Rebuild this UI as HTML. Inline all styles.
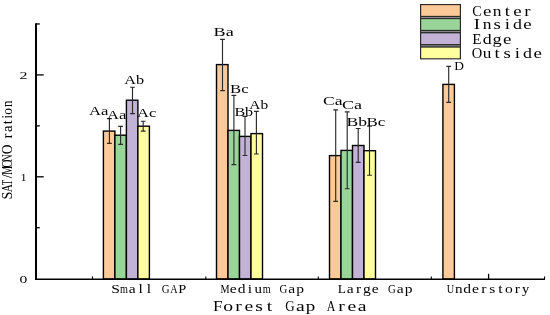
<!DOCTYPE html><html><head><meta charset="utf-8"><style>html,body{margin:0;padding:0;background:#fff;}svg{display:block;}</style></head><body>
<svg width="550" height="315" viewBox="0 0 550 315">
<rect x="0" y="0" width="550" height="315" fill="#fff"/>
<rect x="103.40" y="131.10" width="11.50" height="147.90" fill="rgb(252,201,153)" stroke="#000" stroke-width="1.4"/>
<rect x="114.90" y="135.20" width="11.50" height="143.80" fill="rgb(153,213,153)" stroke="#000" stroke-width="1.4"/>
<rect x="126.40" y="100.20" width="11.50" height="178.80" fill="rgb(193,178,214)" stroke="#000" stroke-width="1.4"/>
<rect x="137.90" y="126.20" width="11.50" height="152.80" fill="rgb(255,255,160)" stroke="#000" stroke-width="1.4"/>
<rect x="216.50" y="64.60" width="11.50" height="214.40" fill="rgb(252,201,153)" stroke="#000" stroke-width="1.4"/>
<rect x="228.00" y="130.40" width="11.50" height="148.60" fill="rgb(153,213,153)" stroke="#000" stroke-width="1.4"/>
<rect x="239.50" y="136.40" width="11.50" height="142.60" fill="rgb(193,178,214)" stroke="#000" stroke-width="1.4"/>
<rect x="251.00" y="133.60" width="11.50" height="145.40" fill="rgb(255,255,160)" stroke="#000" stroke-width="1.4"/>
<rect x="329.50" y="155.60" width="11.50" height="123.40" fill="rgb(252,201,153)" stroke="#000" stroke-width="1.4"/>
<rect x="341.00" y="150.40" width="11.50" height="128.60" fill="rgb(153,213,153)" stroke="#000" stroke-width="1.4"/>
<rect x="352.50" y="145.50" width="11.50" height="133.50" fill="rgb(193,178,214)" stroke="#000" stroke-width="1.4"/>
<rect x="364.00" y="150.70" width="11.50" height="128.30" fill="rgb(255,255,160)" stroke="#000" stroke-width="1.4"/>
<rect x="442.90" y="84.40" width="11.50" height="194.60" fill="rgb(252,201,153)" stroke="#000" stroke-width="1.4"/>
<path d="M109.40 118.60V143.40M107.00 118.60h4.8M107.00 143.40h4.8" stroke="#2b2b2b" stroke-width="1.15" fill="none"/>
<path d="M120.60 126.30V144.30M118.20 126.30h4.8M118.20 144.30h4.8" stroke="#2b2b2b" stroke-width="1.15" fill="none"/>
<path d="M132.50 87.20V113.60M130.10 87.20h4.8M130.10 113.60h4.8" stroke="#2b2b2b" stroke-width="1.15" fill="none"/>
<path d="M143.20 121.20V131.10M140.80 121.20h4.8M140.80 131.10h4.8" stroke="#2b2b2b" stroke-width="1.15" fill="none"/>
<path d="M222.50 39.40V90.60M220.10 39.40h4.8M220.10 90.60h4.8" stroke="#2b2b2b" stroke-width="1.15" fill="none"/>
<path d="M233.90 95.30V164.60M231.50 95.30h4.8M231.50 164.60h4.8" stroke="#2b2b2b" stroke-width="1.15" fill="none"/>
<path d="M245.00 116.40V155.50M242.60 116.40h4.8M242.60 155.50h4.8" stroke="#2b2b2b" stroke-width="1.15" fill="none"/>
<path d="M256.40 111.40V154.00M254.00 111.40h4.8M254.00 154.00h4.8" stroke="#2b2b2b" stroke-width="1.15" fill="none"/>
<path d="M335.70 109.90V201.40M333.30 109.90h4.8M333.30 201.40h4.8" stroke="#2b2b2b" stroke-width="1.15" fill="none"/>
<path d="M347.20 111.90V188.70M344.80 111.90h4.8M344.80 188.70h4.8" stroke="#2b2b2b" stroke-width="1.15" fill="none"/>
<path d="M358.20 128.50V162.40M355.80 128.50h4.8M355.80 162.40h4.8" stroke="#2b2b2b" stroke-width="1.15" fill="none"/>
<path d="M369.50 126.20V175.20M367.10 126.20h4.8M367.10 175.20h4.8" stroke="#2b2b2b" stroke-width="1.15" fill="none"/>
<path d="M448.70 66.40V102.30M446.30 66.40h4.8M446.30 102.30h4.8" stroke="#2b2b2b" stroke-width="1.15" fill="none"/>
<path d="M36 23.3V280" stroke="#000" stroke-width="2" fill="none"/><path d="M35 279.3H545" stroke="#000" stroke-width="1.5" fill="none"/>
<path d="M36 176.80H43.7" stroke="#000" stroke-width="1.3"/>
<path d="M36 74.90H43.7" stroke="#000" stroke-width="1.3"/>
<path d="M36 227.75H39.8" stroke="#000" stroke-width="1.3"/>
<path d="M36 125.85H39.8" stroke="#000" stroke-width="1.3"/>
<path d="M36 23.95H39.8" stroke="#000" stroke-width="1.3"/>
<path d="M92.5 279V276.4" stroke="#000" stroke-width="1.1"/>
<path d="M205.8 279V276.4" stroke="#000" stroke-width="1.1"/>
<path d="M318.3 279V276.4" stroke="#000" stroke-width="1.1"/>
<path d="M431.3 279V276.4" stroke="#000" stroke-width="1.1"/>
<path d="M544.6 279V276.4" stroke="#000" stroke-width="1.1"/>
<path d="M488.6 279V273.8" stroke="#000" stroke-width="1.3"/>
<text x="88.9" y="115.4" style="font-family:&quot;Liberation Serif&quot;,serif;font-size:13.4px" textLength="19.4" lengthAdjust="spacingAndGlyphs">Aa</text>
<text x="106.9" y="119.2" style="font-family:&quot;Liberation Serif&quot;,serif;font-size:13.4px" textLength="19.4" lengthAdjust="spacingAndGlyphs">Aa</text>
<text x="124.3" y="83.6" style="font-family:&quot;Liberation Serif&quot;,serif;font-size:13.4px" textLength="19.9" lengthAdjust="spacingAndGlyphs">Ab</text>
<text x="137.0" y="116.6" style="font-family:&quot;Liberation Serif&quot;,serif;font-size:13.4px" textLength="19.3" lengthAdjust="spacingAndGlyphs">Ac</text>
<text x="213.6" y="36.1" style="font-family:&quot;Liberation Serif&quot;,serif;font-size:13.4px" textLength="20.1" lengthAdjust="spacingAndGlyphs">Ba</text>
<text x="230.1" y="93.1" style="font-family:&quot;Liberation Serif&quot;,serif;font-size:13.4px" textLength="18.5" lengthAdjust="spacingAndGlyphs">Bc</text>
<text x="234.4" y="115.7" style="font-family:&quot;Liberation Serif&quot;,serif;font-size:13.4px" textLength="18.8" lengthAdjust="spacingAndGlyphs">Bb</text>
<text x="249.3" y="108.6" style="font-family:&quot;Liberation Serif&quot;,serif;font-size:13.4px" textLength="18.9" lengthAdjust="spacingAndGlyphs">Ab</text>
<text x="323.0" y="105.0" style="font-family:&quot;Liberation Serif&quot;,serif;font-size:13.4px" textLength="19.5" lengthAdjust="spacingAndGlyphs">Ca</text>
<text x="341.9" y="109.4" style="font-family:&quot;Liberation Serif&quot;,serif;font-size:13.4px" textLength="20.0" lengthAdjust="spacingAndGlyphs">Ca</text>
<text x="346.4" y="125.7" style="font-family:&quot;Liberation Serif&quot;,serif;font-size:13.4px" textLength="20.6" lengthAdjust="spacingAndGlyphs">Bb</text>
<text x="366.4" y="125.7" style="font-family:&quot;Liberation Serif&quot;,serif;font-size:13.4px" textLength="18.8" lengthAdjust="spacingAndGlyphs">Bc</text>
<text x="454.3" y="70.4" style="font-family:&quot;Liberation Serif&quot;,serif;font-size:13.4px" textLength="9.7" lengthAdjust="spacingAndGlyphs">D</text>
<text transform="translate(23.5,283.40) scale(1.497,1)" text-anchor="middle" style="font-family:&quot;Liberation Serif&quot;,serif;font-size:10.4px">0</text>
<text transform="translate(23.5,181.00) scale(1.175,1)" text-anchor="middle" style="font-family:&quot;Liberation Serif&quot;,serif;font-size:10.4px">1</text>
<text transform="translate(23.5,79.10) scale(1.535,1)" text-anchor="middle" style="font-family:&quot;Liberation Serif&quot;,serif;font-size:10.4px">2</text>
<g style="font-family:&quot;Liberation Serif&quot;,serif;font-size:14.2px"><text transform="translate(12.4,195.60) rotate(-90) scale(1.000,1)" text-anchor="middle">S</text><text transform="translate(12.4,188.20) rotate(-90) scale(0.800,1)" text-anchor="middle">A</text><text transform="translate(12.4,182.60) rotate(-90) scale(0.620,1)" text-anchor="middle">T</text><text transform="translate(12.4,176.20) rotate(-90) scale(1.000,1)" text-anchor="middle">/</text><text transform="translate(12.4,170.30) rotate(-90) scale(0.700,1)" text-anchor="middle">M</text><text transform="translate(12.4,163.60) rotate(-90) scale(0.800,1)" text-anchor="middle">O</text><text transform="translate(12.4,158.00) rotate(-90) scale(0.720,1)" text-anchor="middle">N</text><text transform="translate(12.4,149.40) rotate(-90) scale(0.950,1)" text-anchor="middle">O</text><text transform="translate(12.4,135.90) rotate(-90) scale(1.050,1)" text-anchor="middle">r</text><text transform="translate(12.4,128.80) rotate(-90) scale(1.050,1)" text-anchor="middle">a</text><text transform="translate(12.4,122.40) rotate(-90) scale(1.000,1)" text-anchor="middle">t</text><text transform="translate(12.4,116.80) rotate(-90) scale(0.900,1)" text-anchor="middle">i</text><text transform="translate(12.4,111.30) rotate(-90) scale(0.950,1)" text-anchor="middle">o</text><text transform="translate(12.4,103.80) rotate(-90) scale(0.920,1)" text-anchor="middle">n</text></g>
<g style="font-family:&quot;Liberation Serif&quot;,serif;font-size:12.0px"><text transform="translate(115.50,293.30) scale(1.300,1)" text-anchor="middle">S</text><text transform="translate(123.85,293.30) scale(0.850,1)" text-anchor="middle">m</text><text transform="translate(132.20,293.30) scale(1.300,1)" text-anchor="middle">a</text><text transform="translate(140.55,293.30) scale(1.300,1)" text-anchor="middle">l</text><text transform="translate(148.90,293.30) scale(1.300,1)" text-anchor="middle">l</text><text transform="translate(165.60,293.30) scale(0.899,1)" text-anchor="middle">G</text><text transform="translate(173.95,293.30) scale(0.850,1)" text-anchor="middle">A</text><text transform="translate(182.30,293.30) scale(1.200,1)" text-anchor="middle">P</text></g>
<g style="font-family:&quot;Liberation Serif&quot;,serif;font-size:12.0px"><text transform="translate(224.93,293.30) scale(0.850,1)" text-anchor="middle">M</text><text transform="translate(233.28,293.30) scale(1.300,1)" text-anchor="middle">e</text><text transform="translate(241.62,293.30) scale(1.293,1)" text-anchor="middle">d</text><text transform="translate(249.98,293.30) scale(1.300,1)" text-anchor="middle">i</text><text transform="translate(258.32,293.30) scale(1.244,1)" text-anchor="middle">u</text><text transform="translate(266.68,293.30) scale(0.850,1)" text-anchor="middle">m</text><text transform="translate(283.38,293.30) scale(0.899,1)" text-anchor="middle">G</text><text transform="translate(291.73,293.30) scale(1.300,1)" text-anchor="middle">a</text><text transform="translate(300.07,293.30) scale(1.300,1)" text-anchor="middle">p</text></g>
<g style="font-family:&quot;Liberation Serif&quot;,serif;font-size:12.0px"><text transform="translate(341.80,293.30) scale(1.120,1)" text-anchor="middle">L</text><text transform="translate(350.15,293.30) scale(1.300,1)" text-anchor="middle">a</text><text transform="translate(358.50,293.30) scale(1.300,1)" text-anchor="middle">r</text><text transform="translate(366.85,293.30) scale(1.300,1)" text-anchor="middle">g</text><text transform="translate(375.20,293.30) scale(1.300,1)" text-anchor="middle">e</text><text transform="translate(391.90,293.30) scale(0.899,1)" text-anchor="middle">G</text><text transform="translate(400.25,293.30) scale(1.300,1)" text-anchor="middle">a</text><text transform="translate(408.60,293.30) scale(1.300,1)" text-anchor="middle">p</text></g>
<g style="font-family:&quot;Liberation Serif&quot;,serif;font-size:12.0px"><text transform="translate(450.43,293.30) scale(0.860,1)" text-anchor="middle">U</text><text transform="translate(458.78,293.30) scale(1.265,1)" text-anchor="middle">n</text><text transform="translate(467.12,293.30) scale(1.293,1)" text-anchor="middle">d</text><text transform="translate(475.48,293.30) scale(1.300,1)" text-anchor="middle">e</text><text transform="translate(483.82,293.30) scale(1.300,1)" text-anchor="middle">r</text><text transform="translate(492.18,293.30) scale(1.300,1)" text-anchor="middle">s</text><text transform="translate(500.52,293.30) scale(1.300,1)" text-anchor="middle">t</text><text transform="translate(508.88,293.30) scale(1.300,1)" text-anchor="middle">o</text><text transform="translate(517.23,293.30) scale(1.300,1)" text-anchor="middle">r</text><text transform="translate(525.58,293.30) scale(1.208,1)" text-anchor="middle">y</text></g>
<g style="font-family:&quot;Liberation Serif&quot;,serif;font-size:14.0px"><text transform="translate(217.90,311.00) scale(1.229,1)" text-anchor="middle">F</text><text transform="translate(228.20,311.00) scale(1.350,1)" text-anchor="middle" font-size="14.56px">o</text><text transform="translate(238.50,311.00) scale(1.350,1)" text-anchor="middle" font-size="14.56px">r</text><text transform="translate(248.80,311.00) scale(1.350,1)" text-anchor="middle" font-size="14.56px">e</text><text transform="translate(259.10,311.00) scale(1.350,1)" text-anchor="middle" font-size="14.56px">s</text><text transform="translate(269.40,311.00) scale(1.350,1)" text-anchor="middle" font-size="14.56px">t</text><text transform="translate(290.00,311.00) scale(0.928,1)" text-anchor="middle">G</text><text transform="translate(300.30,311.00) scale(1.350,1)" text-anchor="middle" font-size="14.56px">a</text><text transform="translate(310.60,311.00) scale(1.304,1)" text-anchor="middle" font-size="14.56px">p</text><text transform="translate(331.20,311.00) scale(0.856,1)" text-anchor="middle">A</text><text transform="translate(341.50,311.00) scale(1.350,1)" text-anchor="middle" font-size="14.56px">r</text><text transform="translate(351.80,311.00) scale(1.350,1)" text-anchor="middle" font-size="14.56px">e</text><text transform="translate(362.10,311.00) scale(1.350,1)" text-anchor="middle" font-size="14.56px">a</text></g>
<rect x="420" y="4" width="41" height="55.4" fill="#2a2a2a"/>
<rect x="421" y="17.05" width="39" height="0.9" fill="#9a9a9a"/>
<rect x="421" y="31.15" width="39" height="0.9" fill="#9a9a9a"/>
<rect x="421" y="45.40" width="39" height="0.9" fill="#9a9a9a"/>
<rect x="421.2" y="5.15" width="38.6" height="10.70" fill="rgb(252,201,153)"/>
<g style="font-family:&quot;Liberation Serif&quot;,serif;font-size:14.0px"><text transform="translate(477.00,15.50) scale(1.011,1)" text-anchor="middle">C</text><text transform="translate(487.10,15.50) scale(1.350,1)" text-anchor="middle">e</text><text transform="translate(497.20,15.50) scale(1.249,1)" text-anchor="middle">n</text><text transform="translate(507.30,15.50) scale(1.350,1)" text-anchor="middle">t</text><text transform="translate(517.40,15.50) scale(1.350,1)" text-anchor="middle">e</text><text transform="translate(527.50,15.50) scale(1.350,1)" text-anchor="middle">r</text></g>
<rect x="421.2" y="19.15" width="38.6" height="10.70" fill="rgb(153,213,153)"/>
<g style="font-family:&quot;Liberation Serif&quot;,serif;font-size:14.0px"><text transform="translate(477.00,29.40) scale(1.350,1)" text-anchor="middle">I</text><text transform="translate(487.10,29.40) scale(1.249,1)" text-anchor="middle">n</text><text transform="translate(497.20,29.40) scale(1.350,1)" text-anchor="middle">s</text><text transform="translate(507.30,29.40) scale(1.350,1)" text-anchor="middle">i</text><text transform="translate(517.40,29.40) scale(1.277,1)" text-anchor="middle">d</text><text transform="translate(527.50,29.40) scale(1.350,1)" text-anchor="middle">e</text></g>
<rect x="421.2" y="33.35" width="38.6" height="10.70" fill="rgb(193,178,214)"/>
<g style="font-family:&quot;Liberation Serif&quot;,serif;font-size:14.0px"><text transform="translate(477.00,43.50) scale(1.085,1)" text-anchor="middle">E</text><text transform="translate(487.10,43.50) scale(1.277,1)" text-anchor="middle">d</text><text transform="translate(497.20,43.50) scale(1.318,1)" text-anchor="middle">g</text><text transform="translate(507.30,43.50) scale(1.350,1)" text-anchor="middle">e</text></g>
<rect x="421.2" y="47.65" width="38.6" height="10.60" fill="rgb(255,255,160)"/>
<g style="font-family:&quot;Liberation Serif&quot;,serif;font-size:14.0px"><text transform="translate(477.00,57.70) scale(1.037,1)" text-anchor="middle">O</text><text transform="translate(487.10,57.70) scale(1.228,1)" text-anchor="middle">u</text><text transform="translate(497.20,57.70) scale(1.350,1)" text-anchor="middle">t</text><text transform="translate(507.30,57.70) scale(1.350,1)" text-anchor="middle">s</text><text transform="translate(517.40,57.70) scale(1.350,1)" text-anchor="middle">i</text><text transform="translate(527.50,57.70) scale(1.277,1)" text-anchor="middle">d</text><text transform="translate(537.60,57.70) scale(1.350,1)" text-anchor="middle">e</text></g>
</svg></body></html>
